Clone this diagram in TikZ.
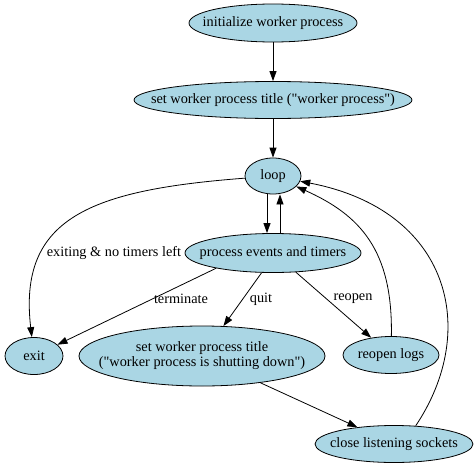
\documentclass[tikz,border=0pt]{standalone}
\usepackage{fontspec}
\newfontfamily\diagfont{Liberation Serif}
\usetikzlibrary{shapes.geometric, arrows.meta}
\definecolor{nodeblue}{RGB}{170,214,228}
\newcommand{\etext}[1]{\makebox[0pt]{#1}}

\begin{document}
\begin{tikzpicture}[x=1pt, y=-1pt, >={Triangle[length=10pt,width=7pt]},
  stage/.style={ellipse, draw, fill=nodeblue, inner sep=0pt, line width=0.8pt},
  lbl/.style={inner sep=1pt},
  font=\diagfont\fontsize{14.3}{15}\selectfont]
  \useasboundingbox (0,0) rectangle (474,466);
  \node[stage, minimum width=168pt, minimum height=38pt] (init)     at (273,23)  {\etext{initialize worker process}};
  \node[stage, minimum width=278pt, minimum height=37pt] (title)    at (273,100) {\etext{set worker process title ("worker process")}};
  \node[stage, minimum width=56pt,  minimum height=36pt] (loop)     at (273,176) {\etext{loop}};
  \node[stage, minimum width=176pt, minimum height=39pt] (process)  at (273,253) {\etext{process events and timers}};
  \node[stage, minimum width=58pt,  minimum height=37pt] (exit)     at (34,356)  {\etext{exit}};
  \node[stage, minimum width=246pt, minimum height=60pt] (shutdown) at (202,356) {\etext{\begin{tabular}{@{}c@{}}set worker process title\\("worker process is shutting down")\end{tabular}}};
  \node[stage, minimum width=96pt,  minimum height=37pt] (reopen)   at (391,355) {\etext{reopen logs}};
  \node[stage, minimum width=158pt, minimum height=37pt] (close)    at (394,444) {\etext{close listening sockets}};
  % main line
  \draw[->, line width=0.8pt] (init) -- (title);
  \draw[->, line width=0.8pt] (title) -- (loop);
  \draw[->, line width=0.8pt] ([xshift=-6pt]loop.south) -- ([xshift=-6pt]process.north);
  \draw[->, line width=0.8pt] ([xshift=7pt]process.north) -- ([xshift=7pt]loop.south);
  % leaving the loop
  \draw[->, line width=0.8pt] (loop) .. controls (90,190) and (18,218) .. (exit)
    node[lbl] at (114,253) {exiting \& no timers left};
  \draw[->, line width=0.8pt] (process.195) -- (exit) node[lbl] at (181,299) {terminate};
  \draw[->, line width=0.8pt] (process.240) -- (shutdown) node[lbl] at (261,299) {quit};
  \draw[->, line width=0.8pt] (process.320) -- (reopen) node[lbl] at (353,299) {reopen};
  \draw[->, line width=0.8pt] (shutdown) -- (close);
  % back to the loop
  \draw[->, line width=0.8pt] (reopen) .. controls (393,250) and (360,215) .. (loop);
  \draw[->, line width=0.8pt] (close.40) .. controls (480,330) and (450,210) .. (loop);
\end{tikzpicture}
\end{document}
